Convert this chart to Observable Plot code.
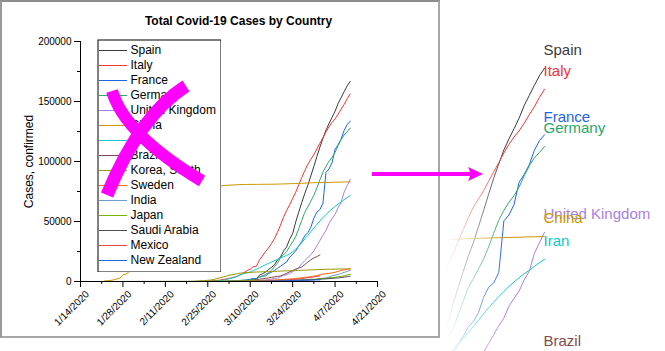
<!DOCTYPE html>
<html><head><meta charset="utf-8">
<script src="https://cdn.jsdelivr.net/npm/d3@7"></script>
<script src="https://cdn.jsdelivr.net/npm/@observablehq/plot@0.6"></script>
<style>
html,body{margin:0;padding:0;background:#fff;}
#wrap{position:relative;width:665px;height:351px;overflow:hidden;background:#fff;font-family:"Liberation Sans",Arial,sans-serif;}
#wrap svg{position:absolute;left:0;top:0;max-width:none;}
#panel{position:absolute;left:0;top:0;width:440px;height:338px;box-sizing:border-box;border:2px solid #a6a6a6;border-top-color:#8c8c8c;border-left-color:#999;}
</style></head><body><div id="wrap"><div id="panel"></div></div>
<script>
// ---------- data (JHU-style cumulative confirmed cases, 1/22/2020 .. 4/12/2020) ----------
const startDate = "2020-01-22";
const countries = ["Spain","Italy","France","Germany","United Kingdom","China","Iran","Brazil","Korea, South","Sweden","India","Japan","Saudi Arabia","Mexico","New Zealand"];
const colors = ["#3a3a3a","#f03535","#1f63e6","#2aa868","#a97fe3","#cc9600","#12c8c8","#7f4c4c","#9a9600","#ff6a10","#6d9bd3","#76b600","#505050","#e84545","#2166e0"];
const sketchCountries = ["Spain","Italy","France","Germany","United Kingdom","China","Iran","Brazil"];

const spain = [0,0,0,0,0,0,0,0,0,0,
 1,1,1,1,1,1,1,1,2,2,2,2,2,2,2,2,2,2,2,2,2,2,2,2,6,13,15,32,45,
 84,120,165,222,259,400,500,673,1073,1695,2277,2277,5232,6391,7798,9942,11748,13910,17963,20410,25374,28768,35136,39885,49515,57786,65719,73235,80110,87956,95923,
 104118,112065,119199,126168,131646,136675,141942,148220,153222,158273,163027,166831];
const italy = [0,0,0,0,0,0,0,0,0,2,
 2,2,2,2,2,2,3,3,3,3,3,3,3,3,3,3,3,3,3,3,20,62,155,229,322,453,655,888,1128,
 1694,2036,2502,3089,3858,4636,5883,7375,9172,10149,12462,12462,17660,21157,24747,27980,31506,35713,41035,47021,53578,59138,63927,69176,74386,80589,86498,92472,97689,101739,105792,
 110574,115242,119827,124632,128948,132547,135586,139422,143626,147577,152271,156363];
const france = [0,0,2,3,3,3,4,5,5,5,
 6,6,6,6,6,6,6,11,11,11,11,11,11,11,12,12,12,12,12,12,12,12,12,12,14,18,38,57,100,
 130,191,204,288,380,656,959,1136,1219,1794,2293,2293,3681,4496,4532,6683,7715,9124,10970,12758,14463,16243,20123,22622,25600,29551,33402,38105,40708,45170,52827,
 57749,59929,65202,90848,93773,98963,110065,113959,118781,125931,130727,133670];
const germany = [0,0,0,0,0,0,4,4,4,5,
 8,10,12,12,12,12,13,13,14,14,16,16,16,16,16,16,16,16,16,16,16,16,16,16,17,27,46,48,79,
 130,159,196,262,482,670,799,1040,1176,1457,1908,2078,3675,4585,5795,7272,9257,12327,15320,19848,22213,24873,29056,32986,37323,43938,50871,57695,62095,66885,71808,
 77872,84794,91159,96092,100123,103374,107663,113296,118181,122171,124908,127854];
const unitedKingdom = [0,0,0,0,0,0,0,0,0,2,
 2,2,2,2,2,2,3,3,3,8,8,9,9,9,9,9,9,9,9,9,9,9,9,9,13,13,15,20,23,
 36,40,51,86,116,164,209,278,321,383,460,460,802,1144,1145,1551,1960,2642,2716,4014,5067,5745,6726,8164,9640,11812,14745,17312,19780,22453,25481,
 29865,34173,38689,42477,48436,52279,55949,61474,65872,74605,79874,85206];
const china = [548,643,920,1406,2075,2877,5509,6087,8141,9802,
 11891,16630,19716,23707,27440,30587,34110,36814,39829,42354,44386,44759,59895,66358,68413,70513,72434,74211,74619,75077,75550,77001,77022,77241,77754,78166,78600,78928,79356,
 79932,80136,80261,80386,80537,80690,80770,80823,80860,80887,80921,80932,80945,80977,81003,81033,81058,81102,81156,81250,81305,81435,81498,81591,81661,81782,81897,81999,82122,82198,82279,
 82361,82432,82511,82543,82602,82665,82718,82809,82883,82941,83014,83134];
const iran = [0,0,0,0,0,0,0,0,0,0,
 0,0,0,0,0,0,0,0,0,0,0,0,0,0,0,0,0,0,2,5,18,28,43,61,95,139,245,388,593,
 978,1501,2336,2922,3513,4747,5823,6566,7161,8042,9000,10075,11364,12729,13938,14991,16169,17361,18407,19644,20610,21638,23049,24811,27017,29406,32332,35408,38309,41495,44605,
 47593,50468,53183,55743,58226,60500,62589,64586,66220,68192,70029,71686];
const brazil = [0,0,0,0,0,0,0,0,0,0,
 0,0,0,0,0,0,0,0,0,0,0,0,0,0,0,1,1,1,2,
 2,2,2,4,4,13,13,20,25,31,38,52,151,151,162,200,321,372,621,793,1021,1546,1924,2247,2554,2985,3417,3904,4256,4579,5717,
 6836,8044,9056,10360,11130,12161,14034,16170,18092,19638,20727,22192];
const koreaSouth = [1,1,2,2,3,4,4,4,4,11,
 12,15,15,16,19,23,24,24,25,27,28,28,28,28,28,29,30,31,31,104,204,433,602,833,977,1261,1766,2337,3150,
 3736,4335,5186,5621,6088,6593,7041,7314,7478,7513,7755,7869,7979,8086,8162,8236,8320,8413,8565,8652,8799,8897,8961,9037,9137,9241,9332,9478,9583,9661,9786,
 9887,9976,10062,10156,10237,10284,10331,10384,10423,10450,10480,10512];
const sweden = [0,0,0,0,0,0,0,0,0,1,
 1,1,1,1,1,1,1,1,1,1,1,1,1,1,1,1,1,1,1,1,1,1,1,1,1,2,7,7,12,
 14,15,21,35,94,101,161,203,248,355,500,599,814,961,1022,1103,1190,1279,1439,1639,1763,1934,2046,2286,2526,2840,3069,3447,3700,4028,4435,
 4947,5568,6131,6443,6830,7206,7693,8419,9141,9685,10151,10483];
const india = [0,0,0,0,0,0,0,0,1,1,
 1,2,3,3,3,3,3,3,3,3,3,3,3,3,3,3,3,3,3,3,3,3,3,3,3,3,3,3,3,
 3,5,5,28,30,31,34,39,43,56,62,73,82,102,113,119,142,156,194,244,330,396,499,536,657,727,887,987,1024,1251,1397,
 1998,2543,2567,3082,3588,4778,5311,5916,6725,7598,8446,9205];
const japan = [2,2,2,2,4,4,7,7,11,15,
 20,20,20,20,22,22,25,25,25,26,26,28,28,29,43,59,66,74,84,94,105,122,147,159,170,189,214,228,241,
 256,274,293,331,360,420,461,502,511,581,639,639,701,773,839,825,878,889,924,963,1007,1086,1086,1128,1193,1307,1387,1468,1693,1866,1866,
 1953,2178,2495,2617,3139,3139,3654,3906,4257,4667,5530,6005];
const saudiArabia = [0,0,0,0,0,0,0,0,0,0,
 0,0,0,0,0,0,0,0,0,0,0,0,0,0,0,0,0,0,0,0,0,0,0,0,0,0,0,0,0,
 0,1,1,1,5,5,5,11,15,20,21,45,86,103,103,118,171,171,274,344,392,511,562,767,900,1012,1104,1203,1299,1453,1563,
 1720,1885,2039,2179,2402,2605,2795,2932,3287,3651,4033,4462];
const mexico = [0,0,0,0,0,0,0,0,0,0,
 0,0,0,0,0,0,0,0,0,0,0,0,0,0,0,0,0,1,4,
 5,5,5,5,5,6,6,7,7,7,8,12,26,41,53,82,93,118,164,203,251,316,367,405,475,585,717,848,993,1094,1215,
 1378,1510,1688,1890,2143,2439,2785,3181,3441,3844,4219,4661];
const newZealand = [0,0,0,0,0,0,0,0,0,0,
 0,0,0,0,0,0,0,0,0,0,0,0,0,0,0,0,0,1,1,
 1,1,1,3,3,4,5,5,5,5,5,5,5,6,8,8,12,20,28,39,52,102,102,155,205,283,368,451,514,589,647,
 708,797,868,950,1039,1106,1160,1210,1239,1283,1312,1330];

const xTickLabels = ["2020-01-14","2020-01-28","2020-02-11","2020-02-25","2020-03-10","2020-03-24","2020-04-07","2020-04-21"];
const xMinorTicks = ["2020-01-21","2020-02-04","2020-02-18","2020-03-03","2020-03-17","2020-03-31","2020-04-14"];
const yTicks = [0,50000,100000,150000,200000];
const yMinorTicks = [25000,75000,125000,175000];
const titleText = "Total Covid-19 Cases by Country";
const yLabel = "Cases, confirmed";

// ---------- build ----------
const series = [spain,italy,france,germany,unitedKingdom,china,iran,brazil,koreaSouth,sweden,india,japan,saudiArabia,mexico,newZealand];
const d0 = new Date(startDate);
const dates = d3.utcDay.range(d0, d3.utcDay.offset(d0, spain.length));
const rows = countries.flatMap((c, i) => series[i].map((v, j) => ({country: c, date: dates[j], cases: v})));
const ends = countries.map((c, i) => ({country: c, date: dates[dates.length - 1], cases: series[i][series[i].length - 1]}));
const font = '"Liberation Sans", Arial, sans-serif';
const colorScale = {domain: countries, range: colors};
const xDom = [new Date(xTickLabels[0]), new Date(xTickLabels[xTickLabels.length - 1])];
const fmtDate = d3.utcFormat("%-m/%-d/%Y");
const wrap = document.getElementById("wrap");

const main = Plot.plot({
  width: 440, height: 336,
  marginLeft: 80, marginRight: 63, marginTop: 41, marginBottom: 55,
  style: {background: "transparent", fontFamily: font, fontSize: "10px", color: "#000"},
  x: {type: "utc", domain: xDom, axis: null},
  y: {domain: [0, 200000], axis: null},
  color: colorScale,
  marks: [
    Plot.line(rows, {x: "date", y: "cases", z: "country", stroke: "country", strokeWidth: 1}),
    Plot.ruleY([0], {stroke: "#000"}),
    Plot.ruleX([xDom[0]], {stroke: "#000"}),
    Plot.axisY(yTicks, {tickSize: 6, fill: "none", label: null}),
    Plot.axisY(yMinorTicks, {tickSize: 3, fill: "none", label: null}),
    Plot.axisX(xTickLabels.map(d => new Date(d)), {tickSize: 6, fill: "none", label: null}),
    Plot.axisX(xMinorTicks.map(d => new Date(d)), {tickSize: 3, fill: "none", label: null}),
    Plot.text(yTicks, {x: () => xDom[0], y: d => d, text: d => String(d), dx: -9, textAnchor: "end", fill: "#000", fontSize: 10}),
    Plot.text(xTickLabels.map(d => new Date(d)), {x: d => d, y: () => 0, text: d => fmtDate(d), rotate: -45, textAnchor: "end", dx: 7, dy: 11, fill: "#000", fontSize: 10}),
    Plot.text([titleText], {frameAnchor: "top", lineAnchor: "middle", textAnchor: "middle", dy: -20, dx: 9.5, fontWeight: "bold", fontSize: 12, fill: "#000"}),
    Plot.text([yLabel], {frameAnchor: "left", lineAnchor: "middle", textAnchor: "middle", rotate: -90, dx: -51, fontSize: 12, fill: "#000"})
  ]
});
wrap.appendChild(main);

const legend = Plot.plot({
  width: 124, height: 233, margin: 0,
  style: {background: "#fff", fontFamily: font, color: "#000"},
  x: {domain: [0, 124], range: [0, 124], axis: null},
  y: {type: "point", domain: countries, range: [8.7, 223.3], padding: 0, axis: null},
  marks: [
    Plot.frame({stroke: "#000", inset: 0.5}),
    Plot.ruleY(countries, {y: d => d, x1: 2, x2: 30, stroke: (d, i) => colors[i], strokeWidth: 1}),
    Plot.text(countries, {y: d => d, x: 33, text: d => d, textAnchor: "start", fontSize: 12, fill: "#000"})
  ]
});
legend.style.left = "97px";
legend.style.top = "39px";
wrap.appendChild(legend);

const sketchRows = rows.filter(r => sketchCountries.includes(r.country));
const sketchEnds = ends.filter(r => sketchCountries.includes(r.country));
const sketch = Plot.plot({
  width: 665, height: 351, margin: 0,
  style: {background: "transparent", fontFamily: font},
  x: {type: "utc", domain: [dates[0], dates[dates.length - 1]], range: [544 - 81 * 5.08, 544], axis: null},
  y: {domain: [0, 200000], range: [403, 1], axis: null},
  color: colorScale,
  marks: [
    Plot.line(sketchRows, {x: "date", y: "cases", z: "country", stroke: "country", strokeWidth: 1}),
    Plot.text(sketchEnds, {x: "date", y: "cases", text: "country", fill: "country", dy: -18, dx: -1, textAnchor: "start", fontSize: 15})
  ]
});
const ns = "http://www.w3.org/2000/svg";
const defs = document.createElementNS(ns, "defs");
defs.innerHTML = '<linearGradient id="fadeGrad" gradientUnits="userSpaceOnUse" x1="445" y1="0" x2="505" y2="0"><stop offset="0" stop-color="#000"/><stop offset="1" stop-color="#fff"/></linearGradient>' +
  '<mask id="fadeMask" maskUnits="userSpaceOnUse" x="0" y="0" width="665" height="351"><rect x="-5" y="-5" width="680" height="370" fill="url(#fadeGrad)"/></mask>';
sketch.insertBefore(defs, sketch.firstChild);
const lineG = sketch.querySelector('g[aria-label="line"]');
if (lineG) lineG.setAttribute("mask", "url(#fadeMask)");
wrap.appendChild(sketch);

// ---------- annotations (magenta cross over the legend, arrow to the sketch) ----------
const ann = document.createElementNS(ns, "svg");
ann.setAttribute("width", 665); ann.setAttribute("height", 351);
ann.innerHTML =
  '<path d="M112 91 Q125 135 202 181" fill="none" stroke="#ff00ff" stroke-width="12"/>' +
  '<path d="M186 86 Q140 115 107 195" fill="none" stroke="#ff00ff" stroke-width="13"/>' +
  '<path d="M372 174 H471" stroke="#ff00ff" stroke-width="4"/>' +
  '<path d="M468 167 L483 174 L468 181 L471 174 Z" fill="#ff00ff"/>';
wrap.appendChild(ann);
</script></body></html>
